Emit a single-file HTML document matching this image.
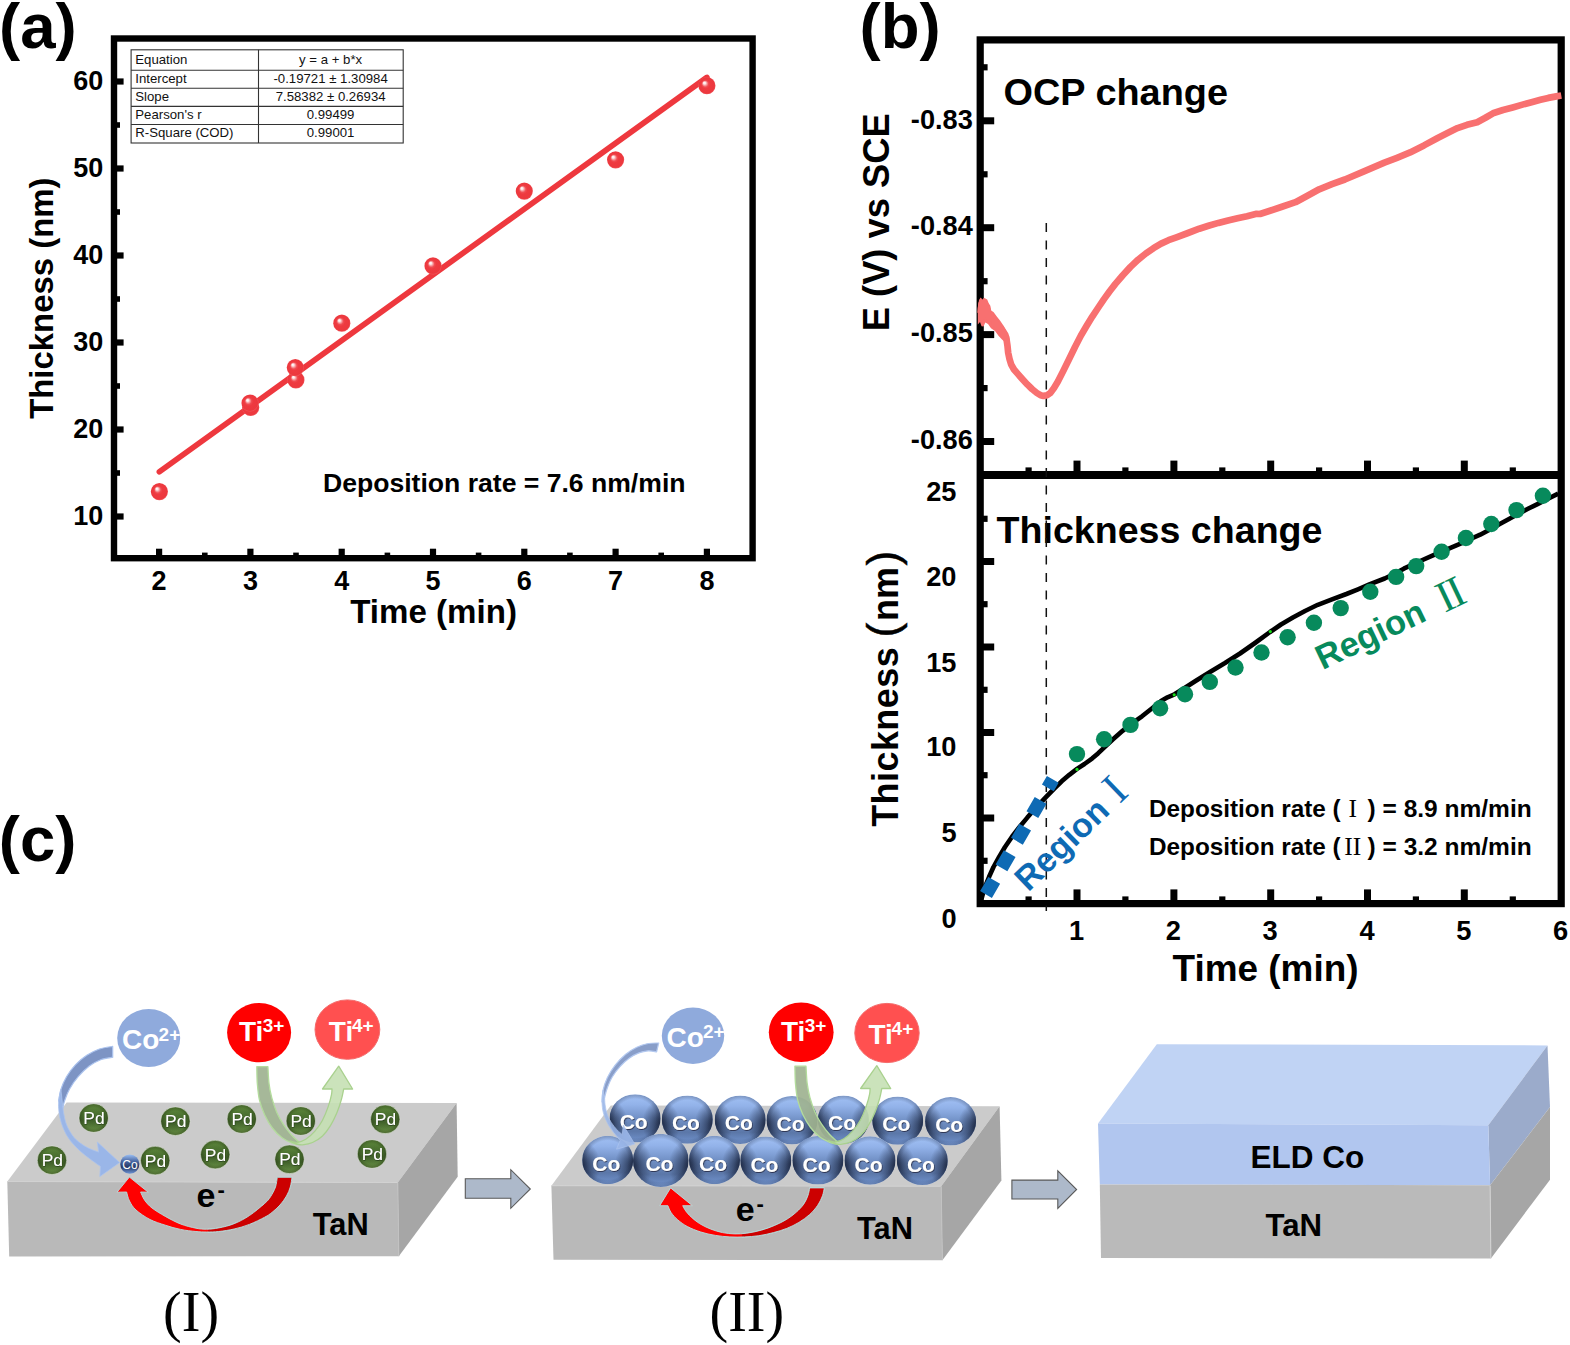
<!DOCTYPE html>
<html lang="en">
<head>
<meta charset="utf-8">
<title>Figure: ELD Co deposition rate, OCP / thickness change and mechanism</title>
<style>
html,body{margin:0;padding:0;background:#fff;}
body{width:1570px;height:1345px;overflow:hidden;}
svg{display:block;}
svg text{font-family:"Liberation Sans",sans-serif;}
</style>
</head>
<body>
<svg width="1570" height="1345" viewBox="0 0 1570 1345">
<defs>
<radialGradient id="redball" cx="0.5" cy="0.5" r="0.5" fx="0.34" fy="0.32">
<stop offset="0" stop-color="#ffffff"/><stop offset="0.13" stop-color="#fde6e6"/><stop offset="0.24" stop-color="#f79ea1"/><stop offset="0.38" stop-color="#f04c52"/><stop offset="0.52" stop-color="#ee3a40"/><stop offset="0.9" stop-color="#ec383e"/><stop offset="1" stop-color="#f0565b"/>
</radialGradient>
<linearGradient id="pdl" x1="0" y1="0" x2="0" y2="1">
<stop offset="0" stop-color="#638f40"/><stop offset="0.3" stop-color="#4f7633"/><stop offset="0.6" stop-color="#42632b"/><stop offset="0.82" stop-color="#5a813c"/><stop offset="1" stop-color="#72994c"/>
</linearGradient>
<radialGradient id="pdr" cx="0.5" cy="0.5" r="0.5">
<stop offset="0" stop-color="#22360f" stop-opacity="0"/><stop offset="0.72" stop-color="#22360f" stop-opacity="0.06"/><stop offset="1" stop-color="#22360f" stop-opacity="0.45"/>
</radialGradient>
<radialGradient id="cog" cx="0.5" cy="0.5" r="0.5" fx="0.5" fy="0.13">
<stop offset="0" stop-color="#9fbef2"/><stop offset="0.34" stop-color="#83a3da"/><stop offset="0.64" stop-color="#647fae"/><stop offset="0.86" stop-color="#45587c"/><stop offset="1" stop-color="#2d3a56"/>
</radialGradient>
<linearGradient id="cov" x1="0" y1="0" x2="0" y2="1">
<stop offset="0" stop-color="#a3c2f5"/><stop offset="0.22" stop-color="#92b2e9"/><stop offset="0.5" stop-color="#7190c5"/><stop offset="0.76" stop-color="#5b77a8"/><stop offset="0.92" stop-color="#6a8ac2"/><stop offset="1" stop-color="#82a6e2"/>
</linearGradient>
<radialGradient id="cosd" cx="0.5" cy="0.5" r="0.5">
<stop offset="0.15" stop-color="#1b2640" stop-opacity="0.9"/><stop offset="0.55" stop-color="#1b2640" stop-opacity="0.45"/><stop offset="1" stop-color="#1b2640" stop-opacity="0"/>
</radialGradient>
<radialGradient id="cori" cx="0.5" cy="0.5" r="0.5">
<stop offset="0.8" stop-color="#1b2640" stop-opacity="0"/><stop offset="1" stop-color="#1b2640" stop-opacity="0.3"/>
</radialGradient>
<clipPath id="coclip"><circle cx="50" cy="50" r="50"/></clipPath>
<symbol id="cosph" viewBox="0 0 100 100" preserveAspectRatio="none">
<circle cx="50" cy="50" r="50" fill="url(#cov)"/>
<g clip-path="url(#coclip)">
<ellipse cx="-6" cy="60" rx="42" ry="52" fill="url(#cosd)"/>
<ellipse cx="106" cy="60" rx="42" ry="52" fill="url(#cosd)"/>
<circle cx="50" cy="50" r="50" fill="url(#cori)"/>
</g>
</symbol>
<linearGradient id="cosl" x1="0" y1="0" x2="0" y2="1">
<stop offset="0" stop-color="#9cc0f4"/><stop offset="0.35" stop-color="#4a68a4"/><stop offset="0.65" stop-color="#263966"/><stop offset="1" stop-color="#6f95d6"/>
</linearGradient>
<filter id="tsh" x="-20%" y="-20%" width="140%" height="150%"><feDropShadow dx="0.6" dy="0.9" stdDeviation="0.7" flood-color="#1a2436" flood-opacity="0.85"/></filter>
<filter id="psh" x="-20%" y="-20%" width="140%" height="150%"><feDropShadow dx="0.4" dy="0.7" stdDeviation="0.5" flood-color="#1d2b10" flood-opacity="0.8"/></filter>
</defs>
<rect width="1570" height="1345" fill="#fff"/>
<g id="panel-a">
<text x="-1" y="48.3" font-size="63.5" font-weight="bold">(a)</text>
<g stroke="#000" stroke-width="6.2">
<line x1="159.1" y1="558.2" x2="159.1" y2="548.7"/>
<line x1="250.4" y1="558.2" x2="250.4" y2="548.7"/>
<line x1="341.7" y1="558.2" x2="341.7" y2="548.7"/>
<line x1="433" y1="558.2" x2="433" y2="548.7"/>
<line x1="524.3" y1="558.2" x2="524.3" y2="548.7"/>
<line x1="615.6" y1="558.2" x2="615.6" y2="548.7"/>
<line x1="706.9" y1="558.2" x2="706.9" y2="548.7"/>
<line x1="114" y1="516.5" x2="123.6" y2="516.5"/>
<line x1="114" y1="429.5" x2="123.6" y2="429.5"/>
<line x1="114" y1="342.5" x2="123.6" y2="342.5"/>
<line x1="114" y1="255.5" x2="123.6" y2="255.5"/>
<line x1="114" y1="168.5" x2="123.6" y2="168.5"/>
<line x1="114" y1="81.5" x2="123.6" y2="81.5"/>
</g>
<g stroke="#000" stroke-width="5.6">
<line x1="204.8" y1="558.2" x2="204.8" y2="552.6"/>
<line x1="296" y1="558.2" x2="296" y2="552.6"/>
<line x1="387.4" y1="558.2" x2="387.4" y2="552.6"/>
<line x1="478.6" y1="558.2" x2="478.6" y2="552.6"/>
<line x1="569.9" y1="558.2" x2="569.9" y2="552.6"/>
<line x1="661.2" y1="558.2" x2="661.2" y2="552.6"/>
<line x1="114" y1="473" x2="120" y2="473"/>
<line x1="114" y1="386" x2="120" y2="386"/>
<line x1="114" y1="299" x2="120" y2="299"/>
<line x1="114" y1="212" x2="120" y2="212"/>
<line x1="114" y1="125" x2="120" y2="125"/>
</g>
<rect x="114" y="38.5" width="638.6" height="519.7" fill="none" stroke="#000" stroke-width="6.4"/>
<g font-size="27" font-weight="bold" text-anchor="middle">
<text x="159.1" y="590">2</text>
<text x="250.4" y="590">3</text>
<text x="341.7" y="590">4</text>
<text x="433" y="590">5</text>
<text x="524.3" y="590">6</text>
<text x="615.6" y="590">7</text>
<text x="706.9" y="590">8</text>
</g>
<g font-size="27" font-weight="bold" text-anchor="end">
<text x="103.4" y="525.1">10</text>
<text x="103.4" y="438.1">20</text>
<text x="103.4" y="351.1">30</text>
<text x="103.4" y="264.1">40</text>
<text x="103.4" y="177.1">50</text>
<text x="103.4" y="90.1">60</text>
</g>
<text x="433.6" y="622.8" font-size="33.1" font-weight="bold" text-anchor="middle">Time (min)</text>
<text transform="translate(53,298.2) rotate(-90)" font-size="32.9" font-weight="bold" text-anchor="middle">Thickness (nm)</text>
<line x1="159.4" y1="471.8" x2="706.9" y2="77.4" stroke="#ee383e" stroke-width="5.7" stroke-linecap="round"/>
<circle cx="159.4" cy="491.6" r="8.6" fill="url(#redball)"/>
<circle cx="250.7" cy="407.4" r="8.6" fill="url(#redball)"/>
<circle cx="250" cy="403" r="8.6" fill="url(#redball)"/>
<circle cx="295.9" cy="379.9" r="8.6" fill="url(#redball)"/>
<circle cx="295.3" cy="367.6" r="8.6" fill="url(#redball)"/>
<circle cx="341.8" cy="323.2" r="8.6" fill="url(#redball)"/>
<circle cx="433" cy="265.9" r="8.6" fill="url(#redball)"/>
<circle cx="524.3" cy="191.1" r="8.6" fill="url(#redball)"/>
<circle cx="615.6" cy="159.8" r="8.6" fill="url(#redball)"/>
<circle cx="706.9" cy="85.7" r="8.6" fill="url(#redball)"/>
<text x="323" y="491.6" font-size="26" font-weight="bold" textLength="362.5" lengthAdjust="spacingAndGlyphs">Deposition rate = 7.6 nm/min</text>
<g stroke="#333" stroke-width="1.1" fill="none">
<rect x="131.1" y="49.8" width="272.1" height="93.2" fill="#fff"/>
<line x1="258.5" y1="49.8" x2="258.5" y2="143"/>
<line x1="131.1" y1="70.2" x2="403.2" y2="70.2"/>
<line x1="131.1" y1="88.3" x2="403.2" y2="88.3"/>
<line x1="131.1" y1="106.4" x2="403.2" y2="106.4"/>
<line x1="131.1" y1="124.5" x2="403.2" y2="124.5"/>
</g>
<g font-size="13.2" fill="#111">
<text x="135.3" y="64.2">Equation</text>
<text x="330.6" y="64.2" text-anchor="middle">y = a + b*x</text>
<text x="135.3" y="83.1">Intercept</text>
<text x="330.6" y="83.1" text-anchor="middle">-0.19721 ± 1.30984</text>
<text x="135.3" y="101.2">Slope</text>
<text x="330.6" y="101.2" text-anchor="middle">7.58382 ± 0.26934</text>
<text x="135.3" y="119.3">Pearson's r</text>
<text x="330.6" y="119.3" text-anchor="middle">0.99499</text>
<text x="135.3" y="137.4">R-Square (COD)</text>
<text x="330.6" y="137.4" text-anchor="middle">0.99001</text>
</g>
</g>
<g id="panel-b">
<text x="859.5" y="48" font-size="63.5" font-weight="bold">(b)</text>
<g stroke="#000" stroke-width="7">
<line x1="1077" y1="475" x2="1077" y2="460.6"/>
<line x1="1077" y1="903.6" x2="1077" y2="889.4"/>
<line x1="1173.9" y1="475" x2="1173.9" y2="460.6"/>
<line x1="1173.9" y1="903.6" x2="1173.9" y2="889.4"/>
<line x1="1270.7" y1="475" x2="1270.7" y2="460.6"/>
<line x1="1270.7" y1="903.6" x2="1270.7" y2="889.4"/>
<line x1="1367.5" y1="475" x2="1367.5" y2="460.6"/>
<line x1="1367.5" y1="903.6" x2="1367.5" y2="889.4"/>
<line x1="1464.3" y1="475" x2="1464.3" y2="460.6"/>
<line x1="1464.3" y1="903.6" x2="1464.3" y2="889.4"/>
<line x1="980.2" y1="120.8" x2="994.2" y2="120.8"/>
<line x1="980.2" y1="227.7" x2="994.2" y2="227.7"/>
<line x1="980.2" y1="334.6" x2="994.2" y2="334.6"/>
<line x1="980.2" y1="441.5" x2="994.2" y2="441.5"/>
<line x1="980.2" y1="818" x2="994.2" y2="818"/>
<line x1="980.2" y1="732.5" x2="994.2" y2="732.5"/>
<line x1="980.2" y1="647" x2="994.2" y2="647"/>
<line x1="980.2" y1="561.5" x2="994.2" y2="561.5"/>
</g>
<g stroke="#000" stroke-width="6.2">
<line x1="1028.6" y1="475" x2="1028.6" y2="467.4"/>
<line x1="1028.6" y1="903.6" x2="1028.6" y2="896.4"/>
<line x1="1125.4" y1="475" x2="1125.4" y2="467.4"/>
<line x1="1125.4" y1="903.6" x2="1125.4" y2="896.4"/>
<line x1="1222.3" y1="475" x2="1222.3" y2="467.4"/>
<line x1="1222.3" y1="903.6" x2="1222.3" y2="896.4"/>
<line x1="1319.1" y1="475" x2="1319.1" y2="467.4"/>
<line x1="1319.1" y1="903.6" x2="1319.1" y2="896.4"/>
<line x1="1415.9" y1="475" x2="1415.9" y2="467.4"/>
<line x1="1415.9" y1="903.6" x2="1415.9" y2="896.4"/>
<line x1="1512.8" y1="475" x2="1512.8" y2="467.4"/>
<line x1="1512.8" y1="903.6" x2="1512.8" y2="896.4"/>
<line x1="980.2" y1="67.3" x2="987.6" y2="67.3"/>
<line x1="980.2" y1="174.3" x2="987.6" y2="174.3"/>
<line x1="980.2" y1="281.2" x2="987.6" y2="281.2"/>
<line x1="980.2" y1="388.1" x2="987.6" y2="388.1"/>
<line x1="980.2" y1="860.8" x2="987.6" y2="860.8"/>
<line x1="980.2" y1="775.2" x2="987.6" y2="775.2"/>
<line x1="980.2" y1="689.8" x2="987.6" y2="689.8"/>
<line x1="980.2" y1="604.2" x2="987.6" y2="604.2"/>
<line x1="980.2" y1="518.8" x2="987.6" y2="518.8"/>
</g>
<rect x="980.2" y="39.9" width="581" height="863.7" fill="none" stroke="#000" stroke-width="7.2"/>
<line x1="980.2" y1="475" x2="1561.2" y2="475" stroke="#000" stroke-width="7.8"/>
<g font-size="27.2" font-weight="bold" text-anchor="end">
<text x="972.8" y="128.5">-0.83</text>
<text x="972.8" y="235.4">-0.84</text>
<text x="972.8" y="342.3">-0.85</text>
<text x="972.8" y="449.2">-0.86</text>
</g>
<g font-size="27.2" font-weight="bold" text-anchor="end">
<text x="956.5" y="501">25</text>
<text x="956.5" y="586">20</text>
<text x="956.5" y="671.6">15</text>
<text x="956.5" y="756.3">10</text>
<text x="956.5" y="842.4">5</text>
<text x="956.5" y="928.2">0</text>
</g>
<g font-size="27.3" font-weight="bold" text-anchor="middle">
<text x="1076.5" y="939.7">1</text>
<text x="1173.4" y="939.7">2</text>
<text x="1270.2" y="939.7">3</text>
<text x="1367" y="939.7">4</text>
<text x="1463.8" y="939.7">5</text>
<text x="1560.7" y="939.7">6</text>
</g>
<text x="1172.5" y="980.6" font-size="36" font-weight="bold" textLength="186" lengthAdjust="spacingAndGlyphs">Time (min)</text>
<text transform="translate(888.7,222.3) rotate(-90)" font-size="36.3" font-weight="bold" text-anchor="middle">E (V) vs SCE</text>
<text x="1003.5" y="105.4" font-size="36.5" font-weight="bold" textLength="224.5" lengthAdjust="spacingAndGlyphs">OCP change</text>
<text x="996.5" y="543.2" font-size="36.8" font-weight="bold" textLength="326" lengthAdjust="spacingAndGlyphs">Thickness change</text>
<g transform="translate(898.3,0) rotate(-90)" font-weight="bold" font-size="36">
<text x="-826.8" y="0" textLength="179.5">Thickness</text>
<text x="-620.9" y="0">nm</text>
<text x="-637.5" y="0" font-size="44.5" font-weight="normal" stroke="#000" stroke-width="0.5">(</text>
<text x="-565.4" y="0" font-size="44.5" font-weight="normal" stroke="#000" stroke-width="0.5">)</text>
</g>
<line x1="1046.3" y1="222.9" x2="1046.3" y2="911" stroke="#111" stroke-width="1.5" stroke-dasharray="9.2 8.3"/>
<path d="M977.8,308 L979,300 L980.6,297.4 L982.5,299.5 L984,297.8 L987.2,299.6 L989,304 L991,310.6 L993.5,312 L996.8,316.4 L1000,320.5 L1003.4,325.6 L1008.4,333.5 L1009.5,340 L1006.5,343.5 L1002,339.5 L998.7,335.9 L995,331 L991,328.2 L988,324 L985.3,322.5 L983.5,326.5 L981.5,326.3 L980,322 L977.8,324.5 Z" fill="#f87070"/>
<polyline fill="none" stroke="#f87070" stroke-width="6.7" stroke-linejoin="round" points="980.6,313 981.5,304 983,316 984.5,304 987.2,307 989,317 992.9,318.5 996,325 1000.6,328 1004,334 1006.3,337.6 1007.5,346 1008.2,352.9 1009.5,359 1011.1,364.3 1014,369.5 1017.8,373.9 1022.5,379.2 1027.3,384.4 1032,389 1036.9,393 1040.5,395.2 1043.6,395.9 1047,395.2 1050.3,393 1054,388 1057.9,381.5 1063.5,370.5 1069.4,358.6 1075,347 1080.8,335.7 1086.5,326 1092.3,316.6 1098,308 1103.8,299.4 1109.5,291.5 1115.2,284.1 1122.8,275.2 1130.5,266.9 1138,259.8 1145.8,253.5 1153.5,248.2 1161.1,243.6 1168.5,240.2 1176.4,237.3 1188,233 1199.3,228.7 1208.5,225.8 1218.4,222.9 1228,220.4 1237.5,218.2 1247,216.2 1256.6,213.8 1260,214 1270,210.8 1282,206.8 1295.5,202.2 1307,196 1319.2,189.3 1332,184.2 1344.9,179.5 1364,171.3 1384.4,162.7 1397,157.8 1410.1,152.4 1424,145.4 1437.7,138 1447.5,133 1457.5,128.1 1467,124.8 1477.2,122.2 1485,118 1493,113.3 1503,110 1512.7,107.4 1522.5,104.6 1532.5,101.9 1540.5,99.8 1548.3,97.9 1555,96.6 1561.3,95.5"/>
<polyline fill="none" stroke="#000" stroke-width="4.6" stroke-linejoin="round" points="981.5,899 984.5,888 989.1,876.8 993.5,867 998.7,857.7 1005,847 1012,836.7 1019.5,827 1027.3,817.6 1036.5,807.1 1046.4,796.6 1054,788.8 1061.7,781.3 1069.3,774.8 1077,768.9 1084.5,764 1092.3,758.3 1098,753.4 1103.8,747.8 1113,739.3 1122.9,730.6 1132.3,723.2 1142,716.3 1151.5,708.8 1161.1,701 1167.5,697.3 1174.5,694.3 1185,687.8 1195.5,681 1210,672 1225,663 1240,653.5 1255,643 1270,632 1281,624.5 1292.9,617.6 1305,611 1317.8,604.8 1332,599.3 1346.4,594 1358,589.3 1369.4,584.4 1384.7,578.5 1394,574 1403.8,568.7 1418,562 1432.4,555.7 1447,549.3 1461.1,543.3 1470.5,539 1480.2,534.7 1490,529.5 1499.3,524.2 1509,519 1518.4,513.7 1528,508.8 1537.5,504.1 1548,498.8 1558.2,493.6"/>
<line x1="986" y1="894.5" x2="1052.8" y2="779.4" stroke="#0e6ab4" stroke-width="13.6" stroke-dasharray="16.4 14.4"/>
<circle cx="1077" cy="754.1" r="8.2" fill="#078a5c"/>
<circle cx="1104.1" cy="739.2" r="8.2" fill="#078a5c"/>
<circle cx="1130.5" cy="724.9" r="8.2" fill="#078a5c"/>
<circle cx="1160.1" cy="708.3" r="8.2" fill="#078a5c"/>
<circle cx="1185" cy="694.3" r="8.2" fill="#078a5c"/>
<circle cx="1209.8" cy="681.9" r="8.2" fill="#078a5c"/>
<circle cx="1235.5" cy="667.5" r="8.2" fill="#078a5c"/>
<circle cx="1261.5" cy="652.5" r="8.2" fill="#078a5c"/>
<circle cx="1287.6" cy="637.3" r="8.2" fill="#078a5c"/>
<circle cx="1313.9" cy="622.8" r="8.2" fill="#078a5c"/>
<circle cx="1340.7" cy="608.1" r="8.2" fill="#078a5c"/>
<circle cx="1370.3" cy="591.8" r="8.2" fill="#078a5c"/>
<circle cx="1396.1" cy="576.9" r="8.2" fill="#078a5c"/>
<circle cx="1416.2" cy="566.1" r="8.2" fill="#078a5c"/>
<circle cx="1441.6" cy="551.7" r="8.2" fill="#078a5c"/>
<circle cx="1465.9" cy="538" r="8.2" fill="#078a5c"/>
<circle cx="1491.3" cy="524" r="8.2" fill="#078a5c"/>
<circle cx="1516.5" cy="510.1" r="8.2" fill="#078a5c"/>
<circle cx="1542.9" cy="495.7" r="8.2" fill="#078a5c"/>
<circle cx="1077" cy="769.4" r="1.6" fill="#18e018"/>
<circle cx="1174.2" cy="694.8" r="1.6" fill="#18e018"/>
<circle cx="1270.3" cy="631.6" r="1.6" fill="#18e018"/>
<text transform="translate(1028.3,892.6) rotate(-44)" font-size="34" font-weight="bold" fill="#0e6ab4">Region <tspan font-family="'Liberation Serif','Noto Serif CJK SC',serif" font-weight="normal" font-size="44" dx="2.3" dy="-0.2">I</tspan></text>
<text transform="translate(1322.4,670.2) rotate(-25.5)" font-size="34.5" font-weight="bold" fill="#078a5c">Region <tspan font-family="'Liberation Serif','Noto Serif CJK SC',serif" font-weight="normal" font-size="44" dx="8.5" dy="1" letter-spacing="-2.5">II</tspan></text>
<text y="817.4" font-size="24.3" font-weight="bold"><tspan x="1149">Deposition rate (</tspan><tspan x="1352.8" text-anchor="middle" font-family="'Liberation Serif','Noto Serif CJK SC',serif" font-weight="normal" font-size="25.5">I</tspan><tspan x="1367.6" font-size="24.5">) = 8.9 nm/min</tspan></text>
<text y="855" font-size="24.3" font-weight="bold"><tspan x="1149">Deposition rate (</tspan><tspan x="1352.8" text-anchor="middle" font-family="'Liberation Serif','Noto Serif CJK SC',serif" font-weight="normal" font-size="25.5">II</tspan><tspan x="1367.6" font-size="24.5">) = 3.2 nm/min</tspan></text>
</g>
<g id="panel-c">
<text x="-1.2" y="861" font-size="63.5" font-weight="bold">(c)</text>
<g id="stage-1">
<polygon points="66.6,1102.4 456.6,1103 397.8,1182.5 7.3,1181.5" fill="#cbcbcb"/>
<polygon points="397.8,1182.5 456.6,1103 457.7,1176.7 398.8,1256.2" fill="#a6a6a6"/>
<polygon points="7.3,1181.5 397.8,1182.5 398.8,1256.2 9.2,1256.6" fill="#b9b9b9"/>
<polyline points="7.3,1181.5 397.8,1182.5" fill="none" stroke="#d2d2d2" stroke-width="1"/>
<polyline points="397.8,1182.5 398.8,1256.2" fill="none" stroke="#c2c2c2" stroke-width="1"/>
<ellipse cx="93.7" cy="1118" rx="14.7" ry="14.3" fill="url(#pdl)" stroke="#dcdfd8" stroke-width="0.8"/><ellipse cx="93.7" cy="1118" rx="14.4" ry="14" fill="url(#pdr)"/><text x="94" y="1124.1" font-size="17.4" fill="#fff" text-anchor="middle" filter="url(#psh)">Pd</text>
<ellipse cx="175.4" cy="1121.2" rx="14.7" ry="14.3" fill="url(#pdl)" stroke="#dcdfd8" stroke-width="0.8"/><ellipse cx="175.4" cy="1121.2" rx="14.4" ry="14" fill="url(#pdr)"/><text x="175.7" y="1127.3" font-size="17.4" fill="#fff" text-anchor="middle" filter="url(#psh)">Pd</text>
<ellipse cx="241.8" cy="1119" rx="14.7" ry="14.3" fill="url(#pdl)" stroke="#dcdfd8" stroke-width="0.8"/><ellipse cx="241.8" cy="1119" rx="14.4" ry="14" fill="url(#pdr)"/><text x="242.1" y="1125.1" font-size="17.4" fill="#fff" text-anchor="middle" filter="url(#psh)">Pd</text>
<ellipse cx="300.8" cy="1121" rx="14.7" ry="14.3" fill="url(#pdl)" stroke="#dcdfd8" stroke-width="0.8"/><ellipse cx="300.8" cy="1121" rx="14.4" ry="14" fill="url(#pdr)"/><text x="301.1" y="1127.1" font-size="17.4" fill="#fff" text-anchor="middle" filter="url(#psh)">Pd</text>
<ellipse cx="385.2" cy="1119.3" rx="14.7" ry="14.3" fill="url(#pdl)" stroke="#dcdfd8" stroke-width="0.8"/><ellipse cx="385.2" cy="1119.3" rx="14.4" ry="14" fill="url(#pdr)"/><text x="385.5" y="1125.4" font-size="17.4" fill="#fff" text-anchor="middle" filter="url(#psh)">Pd</text>
<ellipse cx="52" cy="1160.2" rx="14.7" ry="14.3" fill="url(#pdl)" stroke="#dcdfd8" stroke-width="0.8"/><ellipse cx="52" cy="1160.2" rx="14.4" ry="14" fill="url(#pdr)"/><text x="52.3" y="1166.3" font-size="17.4" fill="#fff" text-anchor="middle" filter="url(#psh)">Pd</text>
<ellipse cx="155.2" cy="1160.6" rx="14.7" ry="14.3" fill="url(#pdl)" stroke="#dcdfd8" stroke-width="0.8"/><ellipse cx="155.2" cy="1160.6" rx="14.4" ry="14" fill="url(#pdr)"/><text x="155.5" y="1166.7" font-size="17.4" fill="#fff" text-anchor="middle" filter="url(#psh)">Pd</text>
<ellipse cx="215.2" cy="1154.6" rx="14.7" ry="14.3" fill="url(#pdl)" stroke="#dcdfd8" stroke-width="0.8"/><ellipse cx="215.2" cy="1154.6" rx="14.4" ry="14" fill="url(#pdr)"/><text x="215.5" y="1160.7" font-size="17.4" fill="#fff" text-anchor="middle" filter="url(#psh)">Pd</text>
<ellipse cx="289.5" cy="1159.3" rx="14.7" ry="14.3" fill="url(#pdl)" stroke="#dcdfd8" stroke-width="0.8"/><ellipse cx="289.5" cy="1159.3" rx="14.4" ry="14" fill="url(#pdr)"/><text x="289.8" y="1165.4" font-size="17.4" fill="#fff" text-anchor="middle" filter="url(#psh)">Pd</text>
<ellipse cx="372" cy="1154" rx="14.7" ry="14.3" fill="url(#pdl)" stroke="#dcdfd8" stroke-width="0.8"/><ellipse cx="372" cy="1154" rx="14.4" ry="14" fill="url(#pdr)"/><text x="372.3" y="1160.1" font-size="17.4" fill="#fff" text-anchor="middle" filter="url(#psh)">Pd</text>
<circle cx="129.8" cy="1164.1" r="9.6" fill="url(#cosl)"/>
<text x="130" y="1168.6" font-size="12" fill="#fff" text-anchor="middle">Co</text>
<ellipse cx="148.7" cy="1038" rx="31.5" ry="29" fill="#8faadc"/><text x="122" y="1049.2" font-size="28" font-weight="bold" fill="#fff">Co</text><text x="158.6" y="1040.6" font-size="19" font-weight="bold" fill="#fff">2+</text>
<ellipse cx="259.1" cy="1032.6" rx="32" ry="29.7" fill="#ff0000"/><text x="239" y="1041.2" font-size="28" font-weight="bold" fill="#fff">Ti</text><text x="262.8" y="1032.4" font-size="19" font-weight="bold" fill="#fff">3+</text>
<ellipse cx="347.4" cy="1029.6" rx="32.4" ry="29.7" fill="#ff5050" stroke="#f46b6b" stroke-width="1"/><text x="328.8" y="1040.6" font-size="28" font-weight="bold" fill="#fff">Ti</text><text x="352" y="1031.7" font-size="19" font-weight="bold" fill="#fff">4+</text>
<g opacity="1.0">
<path d="M112.7,1046.4 C110.5,1046.8 103.7,1047.5 99.4,1049 C95.1,1050.5 90.8,1052.7 86.8,1055.3 C82.8,1057.9 78.8,1061.2 75.4,1064.8 C72,1068.4 68.9,1072.7 66.5,1076.8 C64.1,1080.9 62.2,1085.4 60.9,1089.4 C59.6,1093.4 59.1,1098.9 58.7,1100.8 L62.9,1108 C63.2,1106.8 63.5,1104 64.6,1100.8 C65.7,1097.6 67.3,1093.1 69.6,1089 C71.9,1084.9 75.1,1080.2 78.4,1076.4 C81.7,1072.6 85.6,1068.8 89.3,1066 C93,1063.2 96.8,1061.2 100.7,1059.7 C104.6,1058.2 110.7,1057.6 112.7,1057.2 Z" fill="#7d94c4" stroke="#abc3ee" stroke-width="1.2" stroke-linejoin="round"/>
<path d="M60.9,1089.4 C60.5,1091.3 59,1097 58.7,1100.8 C58.4,1104.6 58.5,1108.3 59,1112.1 C59.5,1115.9 60.2,1119.7 61.5,1123.5 C62.8,1127.3 64.4,1131.3 66.5,1134.9 C68.6,1138.5 71.1,1141.7 74.1,1145 C77,1148.3 80.8,1151.7 84.2,1154.5 C87.6,1157.3 91.6,1160.1 94.3,1162.1 C97,1164.1 99.4,1165.7 100.4,1166.4 L99.8,1176.6 L119.6,1162.6 L97.3,1142 L98.6,1152.1 C96.6,1151.3 90.6,1149.4 86.8,1147.3 C83,1145.2 78.8,1142.3 76,1139.6 C73.2,1136.9 71.5,1134 69.8,1131.3 C68.1,1128.6 67,1126 66,1123.3 C65,1120.6 64.5,1117.5 64,1115 C63.5,1112.5 63.1,1109.2 62.9,1108 Z" fill="#9ab6e8" stroke="#abc3ee" stroke-width="0.8" stroke-linejoin="round"/>
</g>
<path d="M256.8,1066.7 C256.9,1069.5 256.9,1077.8 257.3,1083.4 C257.8,1089 258.3,1095 259.5,1100.2 C260.7,1105.4 262.5,1110.1 264.6,1114.7 C266.8,1119.3 269.4,1124.1 272.4,1128 C275.4,1131.9 279.1,1135.6 282.4,1138.1 C285.7,1140.6 289.6,1142 292.4,1143.1 C295.2,1144.1 298,1144.2 299.1,1144.4 L299.1,1142.3 C297.8,1141 293.9,1137.6 291.3,1134.7 C288.7,1131.8 285.9,1128.4 283.5,1124.7 C281.1,1121 278.8,1116.9 276.8,1112.4 C274.9,1107.9 273.1,1102.7 271.8,1097.9 C270.5,1093.1 269.6,1088.6 269,1083.4 C268.4,1078.2 268.1,1069.5 267.9,1066.7 Z" fill="#9fb391" fill-opacity="0.93" stroke="#b3dc9c" stroke-width="1.3" stroke-linejoin="round"/>
<path d="M296,1144 C297.1,1144.1 299.8,1145 302.5,1144.8 C305.2,1144.5 309.2,1144 312.5,1142.5 C315.8,1141 319.5,1138.7 322.5,1135.9 C325.5,1133.1 327.9,1129.7 330.3,1125.8 C332.7,1121.9 335.1,1116.9 337,1112.4 C338.9,1108 340.4,1103 341.5,1099.1 C342.6,1095.2 343.3,1090.7 343.7,1089 L352.6,1089 L338.7,1066.2 L322.5,1089 L332,1089 C331.9,1089.9 332.1,1091.6 331.5,1094.6 C330.9,1097.6 329.6,1102.6 328.1,1106.9 C326.6,1111.2 324.7,1116.1 322.5,1120.2 C320.3,1124.3 317.5,1128.2 314.7,1131.4 C311.9,1134.6 308.8,1137.4 305.8,1139.2 C302.8,1141 299.5,1142.2 296.9,1142.5 C294.3,1142.8 291.1,1141.2 290,1141 Z" fill="#c5e0b4" fill-opacity="0.9" stroke="#a9d18e" stroke-width="1.3" stroke-linejoin="round"/>
<clipPath id="rclip1"><rect x="208" y="1167.3" width="120" height="90"/></clipPath>
<path d="M126.6,1192 C127.1,1193.5 127.9,1198 129.5,1201 C131.1,1204 132.6,1206.9 136,1210 C139.4,1213.1 145.1,1217 150,1219.5 C154.9,1222 160.2,1223.5 165.3,1225.2 C170.4,1226.9 175.5,1228.4 180.6,1229.4 C185.7,1230.5 191.6,1231.1 195.9,1231.5 C200.2,1231.9 202.8,1232 206.6,1232 C210.4,1232 214.2,1232 218.8,1231.5 C223.4,1231 229,1230.2 234.1,1229 C239.2,1227.8 244.3,1226.4 249.4,1224.4 C254.5,1222.4 260.9,1219.2 264.7,1217.2 C268.5,1215.2 269.4,1214.4 272,1212.4 C274.6,1210.4 277.6,1207.7 280,1205 C282.4,1202.3 284.8,1199 286.5,1196 C288.2,1193 289.4,1190.1 290.3,1187 C291.2,1183.9 291.7,1178.9 292,1177.3 L277.3,1177.3 C277,1178.9 276.6,1183.8 275.5,1187 C274.4,1190.2 272.3,1194.1 270.5,1196.8 C268.7,1199.5 268.2,1200.3 264.7,1203.4 C261.2,1206.5 254.5,1212.2 249.4,1215.6 C244.3,1219 239.2,1221.7 234.1,1223.7 C229,1225.8 223.4,1227 218.8,1227.9 C214.2,1228.8 210.4,1229.2 206.6,1229.2 C202.8,1229.2 200.2,1229.1 195.9,1228.2 C191.6,1227.3 185.7,1226 180.6,1224 C175.5,1222 170.1,1219.1 165.3,1216.4 C160.5,1213.7 155.5,1210.7 152,1208 C148.5,1205.3 146.4,1202.7 144.5,1200 C142.6,1197.3 141.2,1193.3 140.6,1192 L148.2,1192.2 L129.4,1177.1 L117,1192.2 Z" fill="#ff0000" stroke="#b7dede" stroke-width="0.9" stroke-linejoin="round"/>
<path d="M126.6,1192 C127.1,1193.5 127.9,1198 129.5,1201 C131.1,1204 132.6,1206.9 136,1210 C139.4,1213.1 145.1,1217 150,1219.5 C154.9,1222 160.2,1223.5 165.3,1225.2 C170.4,1226.9 175.5,1228.4 180.6,1229.4 C185.7,1230.5 191.6,1231.1 195.9,1231.5 C200.2,1231.9 202.8,1232 206.6,1232 C210.4,1232 214.2,1232 218.8,1231.5 C223.4,1231 229,1230.2 234.1,1229 C239.2,1227.8 244.3,1226.4 249.4,1224.4 C254.5,1222.4 260.9,1219.2 264.7,1217.2 C268.5,1215.2 269.4,1214.4 272,1212.4 C274.6,1210.4 277.6,1207.7 280,1205 C282.4,1202.3 284.8,1199 286.5,1196 C288.2,1193 289.4,1190.1 290.3,1187 C291.2,1183.9 291.7,1178.9 292,1177.3 L277.3,1177.3 C277,1178.9 276.6,1183.8 275.5,1187 C274.4,1190.2 272.3,1194.1 270.5,1196.8 C268.7,1199.5 268.2,1200.3 264.7,1203.4 C261.2,1206.5 254.5,1212.2 249.4,1215.6 C244.3,1219 239.2,1221.7 234.1,1223.7 C229,1225.8 223.4,1227 218.8,1227.9 C214.2,1228.8 210.4,1229.2 206.6,1229.2 C202.8,1229.2 200.2,1229.1 195.9,1228.2 C191.6,1227.3 185.7,1226 180.6,1224 C175.5,1222 170.1,1219.1 165.3,1216.4 C160.5,1213.7 155.5,1210.7 152,1208 C148.5,1205.3 146.4,1202.7 144.5,1200 C142.6,1197.3 141.2,1193.3 140.6,1192 L148.2,1192.2 L129.4,1177.1 L117,1192.2 Z" fill="#cc0000" stroke="#b7dede" stroke-width="0.9" stroke-linejoin="round" clip-path="url(#rclip1)"/>
<text x="196.5" y="1206.8" font-size="34" font-weight="bold">e</text><text x="217.6" y="1196.5" font-size="22" font-weight="bold">-</text>
<text x="312.8" y="1234.8" font-size="30.8" font-weight="bold">TaN</text>
<text x="163.1" y="1330.8" font-size="56" font-family="'Liberation Serif',serif" style="font-family:'Liberation Serif',serif">(I)</text>
</g>
<polygon points="465.3,1178.8 510.8,1178.8 510.8,1169.7 530.3,1189 510.8,1208.3 510.8,1198.3 465.3,1198.3" fill="#adb9ca" stroke="#595959" stroke-width="1.1" stroke-linejoin="miter"/>
<g id="stage-2">
<polygon points="610.8,1105.5 999.6,1106.3 941.2,1186.2 551.4,1185.7" fill="#cbcbcb"/>
<polygon points="941.2,1186.2 999.6,1106.3 1001.4,1180.4 942.4,1260.2" fill="#a6a6a6"/>
<polygon points="551.4,1185.7 941.2,1186.2 942.4,1260.2 553.5,1259.8" fill="#b9b9b9"/>
<polyline points="551.4,1185.7 941.2,1186.2" fill="none" stroke="#d2d2d2" stroke-width="1"/>
<polyline points="941.2,1186.2 942.4,1260.2" fill="none" stroke="#c2c2c2" stroke-width="1"/>
<use href="#cosph" x="609.6" y="1094.2" width="51" height="48.4"/><text x="633.7" y="1128.8" font-size="21" font-weight="bold" fill="#fff" text-anchor="middle" filter="url(#tsh)">Co</text>
<use href="#cosph" x="661.8" y="1095.4" width="51" height="48.4"/><text x="685.9" y="1130" font-size="21" font-weight="bold" fill="#fff" text-anchor="middle" filter="url(#tsh)">Co</text>
<use href="#cosph" x="714.7" y="1095.5" width="51" height="48.4"/><text x="738.8" y="1130.1" font-size="21" font-weight="bold" fill="#fff" text-anchor="middle" filter="url(#tsh)">Co</text>
<use href="#cosph" x="766.5" y="1096" width="51" height="48.4"/><text x="790.6" y="1130.6" font-size="21" font-weight="bold" fill="#fff" text-anchor="middle" filter="url(#tsh)">Co</text>
<use href="#cosph" x="817.9" y="1095.4" width="51" height="48.4"/><text x="842" y="1130" font-size="21" font-weight="bold" fill="#fff" text-anchor="middle" filter="url(#tsh)">Co</text>
<use href="#cosph" x="872.2" y="1096.4" width="51" height="48.4"/><text x="896.3" y="1131" font-size="21" font-weight="bold" fill="#fff" text-anchor="middle" filter="url(#tsh)">Co</text>
<use href="#cosph" x="925.1" y="1097.1" width="51" height="48.4"/><text x="949.2" y="1131.7" font-size="21" font-weight="bold" fill="#fff" text-anchor="middle" filter="url(#tsh)">Co</text>
<use href="#cosph" x="582.2" y="1135.8" width="51" height="48.4"/><text x="606.3" y="1171.2" font-size="21" font-weight="bold" fill="#fff" text-anchor="middle" filter="url(#tsh)">Co</text>
<use href="#cosph" x="633" y="1133.9" width="55.6" height="53"/><text x="659.4" y="1171.4" font-size="21" font-weight="bold" fill="#fff" text-anchor="middle" filter="url(#tsh)">Co</text>
<use href="#cosph" x="689" y="1135.8" width="51" height="48.4"/><text x="713.1" y="1171.2" font-size="21" font-weight="bold" fill="#fff" text-anchor="middle" filter="url(#tsh)">Co</text>
<use href="#cosph" x="740.3" y="1136.4" width="51" height="48.4"/><text x="764.4" y="1171.8" font-size="21" font-weight="bold" fill="#fff" text-anchor="middle" filter="url(#tsh)">Co</text>
<use href="#cosph" x="792.4" y="1136.1" width="51" height="48.4"/><text x="816.5" y="1171.5" font-size="21" font-weight="bold" fill="#fff" text-anchor="middle" filter="url(#tsh)">Co</text>
<use href="#cosph" x="844.5" y="1136.3" width="51" height="48.4"/><text x="868.6" y="1171.7" font-size="21" font-weight="bold" fill="#fff" text-anchor="middle" filter="url(#tsh)">Co</text>
<use href="#cosph" x="896.8" y="1136.6" width="51" height="48.4"/><text x="920.9" y="1172" font-size="21" font-weight="bold" fill="#fff" text-anchor="middle" filter="url(#tsh)">Co</text>
<ellipse cx="693" cy="1035.8" rx="31.2" ry="28.2" fill="#8faadc"/><text x="666.5" y="1047" font-size="28" font-weight="bold" fill="#fff">Co</text><text x="703" y="1038.4" font-size="19" font-weight="bold" fill="#fff">2+</text>
<ellipse cx="801.2" cy="1032.2" rx="32.4" ry="29.7" fill="#ff0000"/><text x="781" y="1041" font-size="28" font-weight="bold" fill="#fff">Ti</text><text x="804.8" y="1032.2" font-size="19" font-weight="bold" fill="#fff">3+</text>
<ellipse cx="887" cy="1033" rx="32.2" ry="29.6" fill="#ff5050" stroke="#f46b6b" stroke-width="1"/><text x="868.4" y="1044" font-size="28" font-weight="bold" fill="#fff">Ti</text><text x="891.6" y="1035.1" font-size="19" font-weight="bold" fill="#fff">4+</text>
<g opacity="0.9">
<path d="M658.7,1043 C657,1043.1 651.9,1042.8 648.3,1043.5 C644.6,1044.2 640.6,1045.4 636.8,1047.2 C633,1049 629,1051.5 625.4,1054.5 C621.8,1057.5 618,1061.5 615,1065.4 C612,1069.3 609.2,1073.7 607.2,1077.9 C605.2,1082.1 603.9,1086.4 603,1090.4 C602.1,1094.4 602.2,1099.9 602,1101.8 L604.6,1097.6 C605,1096 605.9,1091.8 607.2,1088.3 C608.5,1084.8 610.2,1080.4 612.4,1076.8 C614.6,1073.2 617.4,1069.5 620.2,1066.4 C623.1,1063.3 626.4,1060.3 629.5,1058.1 C632.6,1055.8 635.8,1054.1 638.9,1052.9 C642,1051.7 645.3,1051 648.3,1050.8 C651.2,1050.6 655.2,1051.7 656.6,1051.9 Z" fill="#7d94c4" stroke="#abc3ee" stroke-width="1.2" stroke-linejoin="round"/>
<path d="M603,1090.4 C602.8,1092.3 601.9,1098 602,1101.8 C602.1,1105.6 602.5,1109.6 603.5,1113.3 C604.5,1117 606,1120.4 607.7,1123.7 C609.4,1127 611.8,1130.2 613.9,1133 C616,1135.8 619.2,1139.1 620.2,1140.3 L616.5,1149.2 L634.7,1144 L623.3,1125.2 L622.3,1134.6 C621.4,1133.8 618.9,1131.9 617.1,1129.9 C615.3,1127.9 612.9,1125.2 611.3,1122.6 C609.6,1120 608.2,1117.2 607.2,1114.3 C606.2,1111.3 605.5,1107.7 605.1,1104.9 C604.7,1102.1 604.7,1098.8 604.6,1097.6 Z" fill="#9ab6e8" stroke="#abc3ee" stroke-width="0.8" stroke-linejoin="round"/>
</g>
<path d="M794.9,1066.2 C795,1069 795,1077.3 795.4,1082.9 C795.9,1088.5 796.4,1094.5 797.6,1099.7 C798.8,1104.9 800.6,1109.6 802.7,1114.2 C804.9,1118.8 807.5,1123.6 810.5,1127.5 C813.5,1131.4 817.2,1135.1 820.5,1137.6 C823.8,1140.1 827.7,1141.5 830.5,1142.6 C833.3,1143.6 836.1,1143.7 837.2,1143.9 L837.2,1141.8 C835.9,1140.5 832,1137.1 829.4,1134.2 C826.8,1131.3 824,1127.9 821.6,1124.2 C819.2,1120.5 816.9,1116.4 814.9,1111.9 C813,1107.4 811.2,1102.2 809.9,1097.4 C808.6,1092.6 807.8,1088.1 807.1,1082.9 C806.5,1077.7 806.2,1069 806,1066.2 Z" fill="#9fb391" fill-opacity="0.93" stroke="#b3dc9c" stroke-width="1.3" stroke-linejoin="round"/>
<path d="M834.1,1143.5 C835.2,1143.6 837.9,1144.5 840.6,1144.3 C843.4,1144 847.3,1143.5 850.6,1142 C853.9,1140.5 857.6,1138.2 860.6,1135.4 C863.6,1132.6 866,1129.2 868.4,1125.3 C870.8,1121.4 873.2,1116.4 875.1,1111.9 C877,1107.5 878.5,1102.5 879.6,1098.6 C880.7,1094.7 881.4,1090.2 881.8,1088.5 L890.7,1088.5 L876.8,1065.7 L860.6,1088.5 L870.1,1088.5 C870,1089.4 870.2,1091.1 869.6,1094.1 C869,1097.1 867.7,1102.1 866.2,1106.4 C864.7,1110.7 862.8,1115.6 860.6,1119.7 C858.4,1123.8 855.6,1127.7 852.8,1130.9 C850,1134.1 846.9,1136.9 843.9,1138.7 C840.9,1140.5 837.6,1141.7 835,1142 C832.4,1142.3 829.2,1140.8 828.1,1140.5 Z" fill="#c5e0b4" fill-opacity="0.9" stroke="#a9d18e" stroke-width="1.3" stroke-linejoin="round"/>
<clipPath id="rclip2"><rect x="742" y="1177.9" width="120" height="90"/></clipPath>
<path d="M667.9,1205.7 C668.5,1206.9 669.6,1210.3 671.2,1212.7 C672.9,1215.1 675.1,1217.6 677.8,1219.9 C680.5,1222.2 683.7,1224.6 687.5,1226.6 C691.3,1228.6 696.1,1230.5 700.8,1232 C705.4,1233.5 710.5,1234.6 715.4,1235.4 C720.2,1236.2 725.1,1236.7 729.9,1236.9 C734.7,1237.2 739.6,1237.1 744.4,1236.9 C749.2,1236.7 754.1,1236.4 758.9,1235.7 C763.7,1235 768.8,1233.8 773.4,1232.6 C778,1231.4 782.5,1230.1 786.8,1228.4 C791,1226.7 795.1,1224.7 798.9,1222.4 C802.7,1220.1 806.6,1217.3 809.7,1214.5 C812.8,1211.7 815.5,1208.5 817.6,1205.4 C819.7,1202.3 821.4,1198.6 822.5,1195.7 C823.6,1192.8 824,1189.2 824.3,1187.9 L809.7,1187.9 C809.4,1189.2 808.9,1193 807.9,1195.7 C806.9,1198.4 805.6,1201.5 803.7,1204.2 C801.8,1206.9 799.2,1209.6 796.4,1212.1 C793.6,1214.6 790.4,1217.1 786.8,1219.3 C783.2,1221.5 779,1223.6 774.7,1225.4 C770.5,1227.2 765.9,1228.9 761.3,1230.2 C756.6,1231.5 751.2,1232.6 746.8,1233.2 C742.4,1233.8 738.7,1234 734.7,1233.9 C730.7,1233.8 726.6,1233.4 722.6,1232.6 C718.6,1231.8 714.3,1230.5 710.5,1229 C706.7,1227.5 702.8,1225.6 699.6,1223.6 C696.4,1221.6 693.4,1219 691.1,1216.9 C688.8,1214.8 687.1,1212.8 685.7,1210.9 C684.3,1209 683.2,1206.6 682.7,1205.7 L692.4,1205.7 L670.6,1187.9 L659.7,1205.7 Z" fill="#ff0000" stroke="#b7dede" stroke-width="0.9" stroke-linejoin="round"/>
<path d="M667.9,1205.7 C668.5,1206.9 669.6,1210.3 671.2,1212.7 C672.9,1215.1 675.1,1217.6 677.8,1219.9 C680.5,1222.2 683.7,1224.6 687.5,1226.6 C691.3,1228.6 696.1,1230.5 700.8,1232 C705.4,1233.5 710.5,1234.6 715.4,1235.4 C720.2,1236.2 725.1,1236.7 729.9,1236.9 C734.7,1237.2 739.6,1237.1 744.4,1236.9 C749.2,1236.7 754.1,1236.4 758.9,1235.7 C763.7,1235 768.8,1233.8 773.4,1232.6 C778,1231.4 782.5,1230.1 786.8,1228.4 C791,1226.7 795.1,1224.7 798.9,1222.4 C802.7,1220.1 806.6,1217.3 809.7,1214.5 C812.8,1211.7 815.5,1208.5 817.6,1205.4 C819.7,1202.3 821.4,1198.6 822.5,1195.7 C823.6,1192.8 824,1189.2 824.3,1187.9 L809.7,1187.9 C809.4,1189.2 808.9,1193 807.9,1195.7 C806.9,1198.4 805.6,1201.5 803.7,1204.2 C801.8,1206.9 799.2,1209.6 796.4,1212.1 C793.6,1214.6 790.4,1217.1 786.8,1219.3 C783.2,1221.5 779,1223.6 774.7,1225.4 C770.5,1227.2 765.9,1228.9 761.3,1230.2 C756.6,1231.5 751.2,1232.6 746.8,1233.2 C742.4,1233.8 738.7,1234 734.7,1233.9 C730.7,1233.8 726.6,1233.4 722.6,1232.6 C718.6,1231.8 714.3,1230.5 710.5,1229 C706.7,1227.5 702.8,1225.6 699.6,1223.6 C696.4,1221.6 693.4,1219 691.1,1216.9 C688.8,1214.8 687.1,1212.8 685.7,1210.9 C684.3,1209 683.2,1206.6 682.7,1205.7 L692.4,1205.7 L670.6,1187.9 L659.7,1205.7 Z" fill="#cc0000" stroke="#b7dede" stroke-width="0.9" stroke-linejoin="round" clip-path="url(#rclip2)"/>
<text x="735.8" y="1221" font-size="34" font-weight="bold">e</text><text x="756.4" y="1210.8" font-size="22" font-weight="bold">-</text>
<text x="857" y="1239" font-size="30.8" font-weight="bold">TaN</text>
<text x="709.5" y="1330.8" font-size="56" style="font-family:'Liberation Serif',serif">(II)</text>
</g>
<polygon points="1011.9,1180.1 1057.8,1180.1 1057.8,1170.8 1076.6,1189.5 1057.8,1208.3 1057.8,1199 1011.9,1199" fill="#adb9ca" stroke="#595959" stroke-width="1.1" stroke-linejoin="miter"/>
<g id="stage-3">
<polygon points="1156.8,1044.3 1547.5,1045.4 1488.3,1125.3 1098,1123.4" fill="#c0d3f4"/>
<polygon points="1488.3,1125.3 1547.5,1045.4 1550,1107.1 1490.1,1185.2" fill="#9babcb"/>
<polygon points="1490.1,1185.2 1550,1107.1 1550,1179.7 1490.9,1258.5" fill="#a6a6a6"/>
<polygon points="1098,1123.4 1488.3,1125.3 1490.1,1185.2 1099.8,1184.4" fill="#b1c6ef"/>
<polygon points="1099.8,1184.4 1490.1,1185.2 1490.9,1258.5 1101,1258" fill="#bababa"/>
<line x1="1490.1" y1="1185.6" x2="1490.9" y2="1258.3" stroke="#d4d4d4" stroke-width="1"/>
<text x="1250.6" y="1167.7" font-size="31.5" font-weight="bold">ELD Co</text>
<text x="1265.4" y="1236.2" font-size="31.2" font-weight="bold">TaN</text>
</g>
</g>
</svg>
</body>
</html>
